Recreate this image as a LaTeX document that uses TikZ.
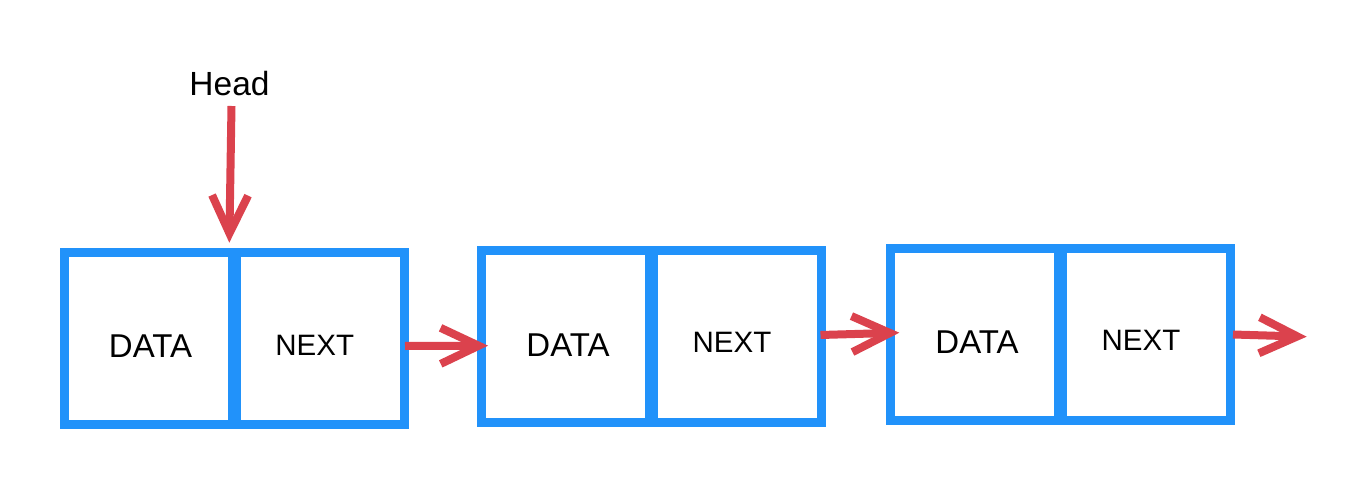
\documentclass[tikz,border=0pt]{standalone}
\usepackage{fontspec}
\setmainfont{Liberation Sans}
\usetikzlibrary{arrows.meta,calc}
\definecolor{llblue}{RGB}{33,146,250}
\definecolor{llred}{RGB}{219,66,77}
\begin{document}
\begin{tikzpicture}[x=1pt,y=-1pt,
  nodebox/.style={draw=llblue, line width=9pt, minimum width=340pt, minimum height=172pt, inner sep=0pt, outer sep=0pt},
  divider/.style={draw=llblue, line width=13pt},
  datalbl/.style={font=\fontsize{33}{38}\selectfont, anchor=base, inner sep=0pt},
  nextlbl/.style={font=\fontsize{29.5}{35}\selectfont, anchor=base, inner sep=0pt},
  headlbl/.style={font=\fontsize{33.5}{40}\selectfont, anchor=base, inner sep=0pt},
  ptr/.style={draw=llred, line width=8pt, -{Straight Barb[sharp,length=38pt,width=36pt]}}
]
\fill[white] (0,0) rectangle (1358,489);
\useasboundingbox (0,0) rectangle (1358,489);

\node[nodebox] (b1) at (234,338.5) {};
\node[nodebox] (b2) at (651.5,336.5) {};
\node[nodebox] (b3) at (1060.5,334.5) {};
\draw[divider] (b1.north) -- (b1.south);
\draw[divider] (b2.north) -- (b2.south);
\draw[divider] (b3.north) -- (b3.south);

\node[datalbl] (d1) at (150.5,357.7) {DATA};
\node[nextlbl] (n1) at (314.7,355) {NEXT};
\node[datalbl] (d2) at (568,356) {DATA};
\node[nextlbl] (n2) at (732,352.7) {NEXT};
\node[datalbl] (d3) at (977,353.3) {DATA};
\node[nextlbl] (n3) at (1141,350.7) {NEXT};

\node[headlbl] (head) at (229.5,96) {Head};

\coordinate (e3) at (1306.7,336.7);
\draw[ptr] ($(head.base)+(2,10)$) -- ($(b1.north)+(-4.7,-9.8)$);
\draw[ptr] ($(b1.east)+(1,7.5)$) -- ($(b2.west)+(6.5,9.2)$);
\draw[ptr] ($(b2.east)+(-1,-1.5)$) -- ($(b3.west)+(8.8,-1.8)$);
\draw[ptr] ($(b3.east)+(2.5,0)$) -- (e3);
\end{tikzpicture}
\end{document}
